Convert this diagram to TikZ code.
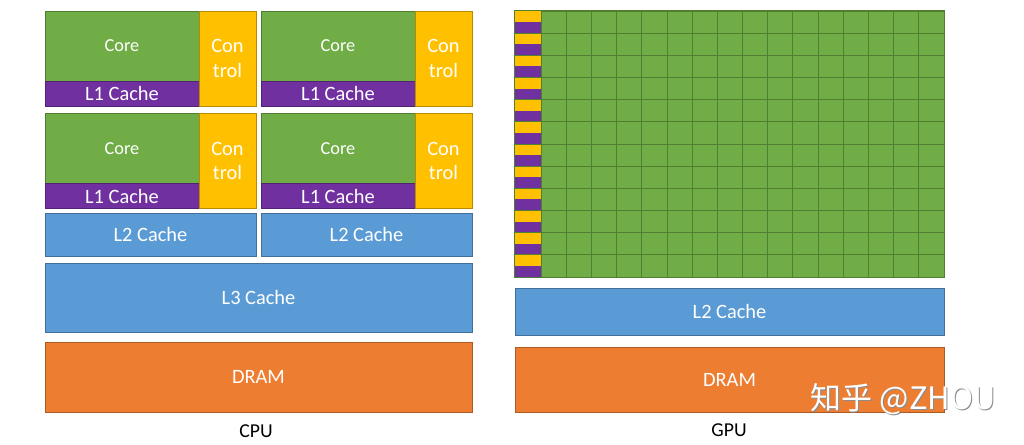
\documentclass[tikz,border=0pt]{standalone}
\usepackage{fontspec}
\setmainfont{Carlito}
\newfontfamily\cjkfont{Noto Sans CJK SC}
\usepackage{tikz}
\usetikzlibrary{fit}

\definecolor{coregreen}{HTML}{70AD47}
\definecolor{ctrlyellow}{HTML}{FFC000}
\definecolor{cachepurple}{HTML}{7030A0}
\definecolor{cacheblue}{HTML}{5B9BD5}
\definecolor{dramorange}{HTML}{ED7D31}
\definecolor{gridgreen}{HTML}{507E32}

\begin{document}
\begin{tikzpicture}[x=0.025cm, y=-0.025cm,
    blk/.style={draw=#1!72!black, fill=#1, line width=0.6pt, inner sep=0pt},
    txt/.style={text=white, align=center, inner sep=0pt, font=\fontsize{14.5}{17.7}\selectfont},
    lbl/.style={black, font=\fontsize{14}{17}\selectfont}]

    \useasboundingbox (0,0) rectangle (1024,445);

    %cpu cores
    \foreach \i/\dx/\dy in {1/0/0, 2/216/0, 3/0/102.5, 4/216/102.5}{
        \node[blk=coregreen, fit={(45+\dx,11+\dy) (199+\dx,81+\dy)},
            label={[txt, font=\fontsize{13}{15}\selectfont]center:Core}] (core\i) {};
        \node[blk=cachepurple, fit={(45+\dx,81+\dy) (199+\dx,106+\dy)},
            label={[txt]center:L1 Cache}] (lone\i) {};
        \node[blk=ctrlyellow, fit={(199+\dx,11+\dy) (256+\dx,106+\dy)},
            label={[txt]center:Con\\trol}] (ctrl\i) {};
    }

    %cpu caches
    \node[blk=cacheblue, fit={(45,213) (256,256)}, label={[txt]center:L2 Cache}] (ltwoa) {};
    \node[blk=cacheblue, fit={(261,213) (472,256)}, label={[txt]center:L2 Cache}] (ltwob) {};
    \node[blk=cacheblue, fit={(45,263) (472,332)}, label={[txt]center:L3 Cache}] (lthree) {};
    \node[blk=dramorange, fit={(45,342) (472,412)}, label={[txt]center:DRAM}] (cpudram) {};
    \node[lbl] (cpu) at (256,431) {CPU};

    %gpu array
    \node[blk=coregreen, fit={(515,11) (944,277)}] (sm) {};
    \foreach \r in {0,...,11}{
        \fill[ctrlyellow] (515,11+\r*22.167) rectangle (541,22.08+\r*22.167);
        \fill[cachepurple] (515,22.08+\r*22.167) rectangle (541,33.167+\r*22.167);
    }
    \foreach \c in {0,...,15}
        \draw[gridgreen, line width=0.6pt] (541+\c*25.19,11) -- (541+\c*25.19,277);
    \foreach \r in {1,...,11}
        \draw[gridgreen, line width=0.6pt] (515,11+\r*22.167) -- (944,11+\r*22.167);
    \draw[gridgreen, line width=0.6pt] (sm.north west) rectangle (sm.south east);

    %gpu caches
    \node[blk=cacheblue, fit={(515,288) (944,335)}, label={[txt]center:L2 Cache}] (gpultwo) {};
    \node[blk=dramorange, fit={(515,347) (944,412)}, label={[txt]center:DRAM}] (gpudram) {};
    \node[lbl] (gpu) at (729,430) {GPU};

    %watermark
    \node[anchor=west, text=black!45, font=\cjkfont\fontsize{22}{24}\selectfont]
        (markshadow) at (807,400) {知乎 @ZHOU};
    \node[anchor=west, text=white, font=\cjkfont\fontsize{22}{24}\selectfont]
        (mark) at (806,399) {知乎 @ZHOU};

\end{tikzpicture}
\end{document}
